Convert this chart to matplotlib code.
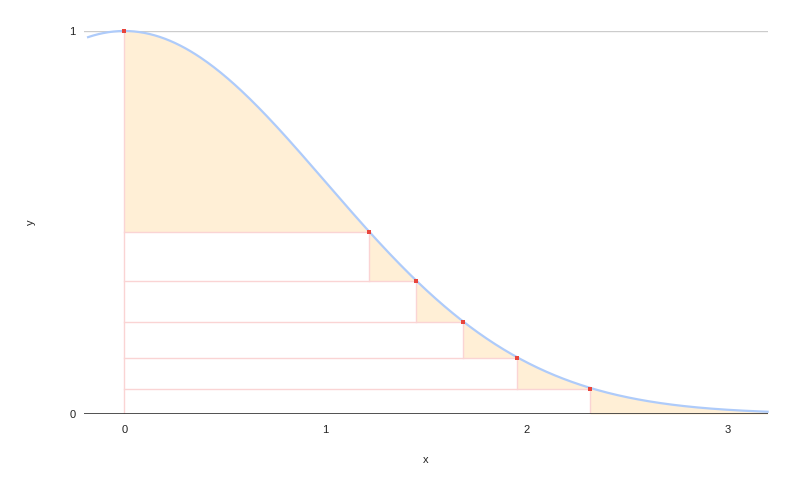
import numpy as np
import matplotlib
matplotlib.use('Agg')
import matplotlib.pyplot as plt

plt.rcParams['font.family'] = ['Liberation Sans', 'DejaVu Sans']

# layer corner points (x_i, y_i on the curve)
layer_x = [0.0, 1.219, 1.453, 1.687, 1.955, 2.318]
layer_y = [1.0, 0.476, 0.347, 0.240, 0.147, 0.066]

x_ticks = [0, 1, 2, 3]
y_ticks = [0, 1]

# the plotted function: y = exp(-x^2 / 2)
curve_x = np.linspace(-0.18, 3.2, 400)
curve_y = np.exp(-curve_x ** 2 / 2)

fig = plt.figure(figsize=(7.93, 4.92), dpi=100)
ax = fig.add_axes([0.106, 0.1585, 0.862, 0.7785])

fill_col = '#ffefd6'
edge_col = '#fad4d4'

# shaded slivers between each layer and the curve
for i in range(1, len(layer_x)):
    x0, x1 = layer_x[i - 1], layer_x[i]
    m = (curve_x >= x0) & (curve_x <= x1)
    xs = np.concatenate([[x0], curve_x[m], [x1]])
    ys = np.exp(-xs ** 2 / 2)
    ax.fill_between(xs, layer_y[i], ys, color=fill_col, lw=0, zorder=1)
# tail beyond the last layer
m = curve_x >= layer_x[-1]
xs = np.concatenate([[layer_x[-1]], curve_x[m]])
ax.fill_between(xs, 0, np.exp(-xs ** 2 / 2), color=fill_col, lw=0, zorder=1)

# rectangle outlines
ax.plot([0, 0], [0, 1], color=edge_col, lw=1, zorder=2)
for i in range(1, len(layer_x)):
    nxt = layer_y[i + 1] if i + 1 < len(layer_y) else 0
    ax.plot([0, layer_x[i]], [layer_y[i], layer_y[i]], color=edge_col, lw=1, zorder=2)
    ax.plot([layer_x[i], layer_x[i]], [nxt, layer_y[i]], color=edge_col, lw=1, zorder=2)

ax.plot(curve_x, curve_y, color='#aecbfa', lw=1.6, zorder=3, clip_on=False)
ax.scatter(layer_x, layer_y, s=5, marker='s', color='#e8453c', lw=0, zorder=4, clip_on=False)

ax.set_xlim(-0.2, 3.2)
ax.set_ylim(0, 1)
ax.set_xticks(x_ticks)
ax.set_yticks(y_ticks)
ax.axhline(1, color='#cccccc', lw=1, zorder=0)
ax.axhline(0, color='#333333', lw=1.2, zorder=5)
for s in ax.spines.values():
    s.set_visible(False)
ax.tick_params(length=0, labelsize=8, colors='#222222', pad=8)
ax.tick_params(axis='y', pad=6)
ax.set_xlabel('x', fontsize=8, color='#222222', labelpad=14)
ax.set_ylabel('y', fontsize=8, color='#222222', labelpad=24)

plt.savefig('out.png', dpi=100)
plt.close()
